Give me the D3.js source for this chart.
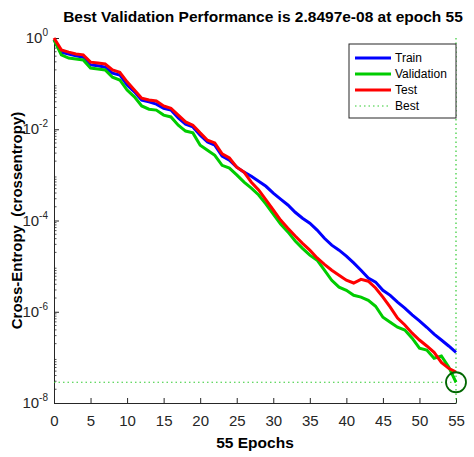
<!DOCTYPE html>
<html><head><meta charset="utf-8">
<script src="https://cdn.jsdelivr.net/npm/d3@7"></script>
<style>body{margin:0;background:#fff}text{font-family:"Liberation Sans",Arial,sans-serif}</style>
</head><body><div id="chart"></div>
<script>
// log10 of cross-entropy, read per epoch 0..55 (negated)
const trainLog = [0.04,0.31,0.35,0.39,0.42,0.59,0.61,0.64,0.77,0.81,1.03,1.18,1.36,1.40,1.45,1.54,1.58,1.75,1.89,1.95,2.13,2.28,2.35,2.59,2.68,2.83,2.94,3.03,3.14,3.25,3.40,3.53,3.66,3.82,3.95,4.06,4.21,4.39,4.54,4.65,4.78,4.93,5.09,5.26,5.35,5.53,5.64,5.79,5.92,6.07,6.20,6.34,6.49,6.62,6.75,6.89];
const valLog = [0.04,0.37,0.44,0.46,0.48,0.66,0.68,0.70,0.86,0.92,1.14,1.29,1.49,1.56,1.58,1.69,1.73,1.91,2.04,2.08,2.35,2.46,2.57,2.79,2.85,3.00,3.16,3.29,3.44,3.64,3.86,4.08,4.25,4.45,4.61,4.76,4.87,5.09,5.31,5.46,5.53,5.64,5.68,5.75,5.88,6.12,6.23,6.34,6.40,6.58,6.80,6.84,7.02,6.97,7.21,7.545];
const testLog = [0,0.26,0.31,0.35,0.37,0.53,0.55,0.57,0.70,0.75,0.96,1.14,1.32,1.36,1.38,1.49,1.54,1.69,1.84,1.91,2.08,2.24,2.30,2.54,2.63,2.83,2.94,3.16,3.33,3.55,3.77,3.99,4.17,4.34,4.50,4.65,4.82,4.96,5.09,5.20,5.31,5.37,5.29,5.33,5.48,5.68,5.90,6.14,6.29,6.47,6.62,6.75,6.89,7.11,7.24,7.32];
const bestEpoch = 55, bestValue = 2.8497e-8;
const xTicks = [0,5,10,15,20,25,30,35,40,45,50,55];
const yTickExps = [0,-2,-4,-6,-8];
const seriesNames = ['Train','Validation','Test'];
const seriesColors = ['#0000ff','#00cc00','#ff0000'];

const toVals = arr => arr.map((e, i) => ({epoch: i, v: Math.pow(10, -e)}));
const series = [trainLog, valLog, testLog].map(toVals);

const width = 474, height = 457;
const margin = {top: 38, right: 18, bottom: 54, left: 54};
const innerWidth = width - margin.left - margin.right;
const innerHeight = height - margin.top - margin.bottom;

const svg = d3.select('#chart').append('svg')
    .attr('width', width).attr('height', height);
const g = svg.append('g').attr('transform', `translate(${margin.left},${margin.top})`);

const xScale = d3.scaleLinear().domain([0, 55]).range([0, innerWidth]);
const yScale = d3.scaleLog().domain([1e-8, 1]).range([innerHeight, 0]);

svg.append('text').attr('x', 263).attr('y', 22).attr('text-anchor', 'middle')
    .style('font-size', '15.5px').style('font-weight', 'bold')
    .text('Best Validation Performance is 2.8497e-08 at epoch 55');

// x axis
const xAxis = g.append('g').attr('transform', `translate(0,${innerHeight})`)
    .call(d3.axisBottom(xScale).tickValues(xTicks).tickSize(-5).tickSizeOuter(0).tickPadding(12));
xAxis.selectAll('text').style('font-size', '15px').attr('fill', '#262626');
xAxis.selectAll('line,path').attr('stroke', '#262626');

// y axis with minor ticks
const minor = [];
for (let e = -8; e < 0; e++) for (let k = 2; k <= 9; k++) minor.push(k * Math.pow(10, e));
const yAxis = g.append('g')
    .call(d3.axisLeft(yScale).tickValues(yTickExps.map(e => Math.pow(10, e))).tickSize(-5).tickSizeOuter(0).tickFormat(''));
yAxis.selectAll('line,path').attr('stroke', '#262626');
g.append('g').selectAll('line').data(minor).enter().append('line')
    .attr('x1', 0).attr('x2', 2.5).attr('y1', d => yScale(d)).attr('y2', d => yScale(d))
    .attr('stroke', '#262626').attr('stroke-width', 0.8);
yTickExps.forEach(e => {
    const t = g.append('text').attr('x', -6).attr('y', yScale(Math.pow(10, e)) + 5)
        .attr('text-anchor', 'end').attr('fill', '#262626').style('font-size', '15px');
    t.append('tspan').text('10');
    t.append('tspan').attr('dy', -7).style('font-size', '10px').text(String(e));
});

svg.append('text').attr('transform', `translate(22,${margin.top + innerHeight / 2}) rotate(-90)`)
    .attr('text-anchor', 'middle').style('font-size', '15px').style('font-weight', 'bold')
    .style('white-space', 'pre')
    .text('Cross-Entropy  (crossentropy)');
svg.append('text').attr('x', margin.left + innerWidth / 2).attr('y', 448)
    .attr('text-anchor', 'middle').style('font-size', '15.5px').style('font-weight', 'bold')
    .text('55 Epochs');

// best lines
g.append('line').attr('x1', xScale(bestEpoch)).attr('x2', xScale(bestEpoch))
    .attr('y1', 0).attr('y2', innerHeight)
    .attr('stroke', '#33cc33').attr('stroke-dasharray', '1.5,3').attr('stroke-width', 1.2);
g.append('line').attr('x1', 0).attr('x2', xScale(bestEpoch))
    .attr('y1', yScale(bestValue)).attr('y2', yScale(bestValue))
    .attr('stroke', '#33cc33').attr('stroke-dasharray', '1.5,3').attr('stroke-width', 1.2);

const line = d3.line().x(d => xScale(d.epoch)).y(d => yScale(d.v));
series.forEach((s, i) => {
    g.append('path').datum(s).attr('fill', 'none').attr('stroke', seriesColors[i])
        .attr('stroke-width', 3).attr('d', line);
});

g.append('circle').attr('cx', xScale(bestEpoch)).attr('cy', yScale(bestValue)).attr('r', 10)
    .attr('fill', 'none').attr('stroke', '#006600').attr('stroke-width', 1.8);

// legend
const legend = svg.append('g').attr('transform', 'translate(349,44)');
legend.append('rect').attr('width', 107).attr('height', 74).attr('fill', '#fff').attr('stroke', '#262626');
seriesNames.concat(['Best']).forEach((name, i) => {
    const y = 14 + i * 16;
    legend.append('line').attr('x1', 6).attr('x2', 42).attr('y1', y).attr('y2', y)
        .attr('stroke', i < 3 ? seriesColors[i] : '#33cc33')
        .attr('stroke-width', i < 3 ? 3 : 1.2)
        .attr('stroke-dasharray', i < 3 ? null : '1.5,3');
    legend.append('text').attr('x', 46).attr('y', y + 4).style('font-size', '12px').text(name);
});
</script></body></html>
